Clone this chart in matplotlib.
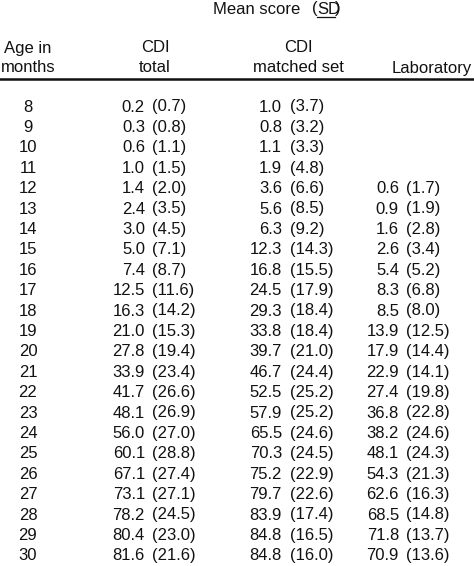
import matplotlib
matplotlib.use("Agg")
import matplotlib.pyplot as plt

ages = list(range(8, 31))
cdi_total_mean = [0.2, 0.3, 0.6, 1.0, 1.4, 2.4, 3.0, 5.0, 7.4, 12.5, 16.3, 21.0, 27.8, 33.9, 41.7, 48.1, 56.0, 60.1, 67.1, 73.1, 78.2, 80.4, 81.6]
cdi_total_sd = [0.7, 0.8, 1.1, 1.5, 2.0, 3.5, 4.5, 7.1, 8.7, 11.6, 14.2, 15.3, 19.4, 23.4, 26.6, 26.9, 27.0, 28.8, 27.4, 27.1, 24.5, 23.0, 21.6]
matched_mean = [1.0, 0.8, 1.1, 1.9, 3.6, 5.6, 6.3, 12.3, 16.8, 24.5, 29.3, 33.8, 39.7, 46.7, 52.5, 57.9, 65.5, 70.3, 75.2, 79.7, 83.9, 84.8, 84.8]
matched_sd = [3.7, 3.2, 3.3, 4.8, 6.6, 8.5, 9.2, 14.3, 15.5, 17.9, 18.4, 18.4, 21.0, 24.4, 25.2, 25.2, 24.6, 24.5, 22.9, 22.6, 17.4, 16.5, 16.0]
lab_mean = [None, None, None, None, 0.6, 0.9, 1.6, 2.6, 5.4, 8.3, 8.5, 13.9, 17.9, 22.9, 27.4, 36.8, 38.2, 48.1, 54.3, 62.6, 68.5, 71.8, 70.9]
lab_sd = [None, None, None, None, 1.7, 1.9, 2.8, 3.4, 5.2, 6.8, 8.0, 12.5, 14.4, 14.1, 19.8, 22.8, 24.6, 24.3, 21.3, 16.3, 14.8, 13.7, 13.6]

plt.rcParams['font.family'] = ['Liberation Sans', 'DejaVu Sans']
fig = plt.figure(figsize=(4.74, 5.66), dpi=100)
ax = fig.add_axes([0, 0, 1, 1])
ax.set_xlim(0, 474)
ax.set_ylim(566, 0)
ax.axis('off')
fs = 12
kw = dict(fontsize=fs, color='#111111', va='center')

ax.text(300, 9, "Mean score", ha='right', **kw)
ax.text(312, 9, "(", ha='left', **kw)
ax.text(317, 9, "SD", ha='left', **kw)
ax.plot([317, 335], [17, 17], color='#111111', lw=0.9)
ax.text(335, 9, ")", ha='left', **kw)

ax.text(28, 48, "Age in", ha='center', **kw)
ax.text(28, 68, "months", ha='center', **kw)
ax.text(155, 48, "CDI", ha='center', **kw)
ax.text(155, 68, "total", ha='center', **kw)
ax.text(298, 48, "CDI", ha='center', **kw)
ax.text(298, 68, "matched set", ha='center', **kw)
ax.text(432, 68, "Laboratory", ha='center', **kw)
ax.plot([0, 474], [79, 79], color='#111111', lw=1.8)

y0, dy = 107, 20.4
for i, a in enumerate(ages):
    y = y0 + i * dy
    ax.text(28, y, str(a), ha='center', **kw)
    ax.text(145, y, f"{cdi_total_mean[i]:.1f}", ha='right', **kw)
    ax.text(152, y, f"({cdi_total_sd[i]:.1f})", ha='left', **kw)
    ax.text(282, y, f"{matched_mean[i]:.1f}", ha='right', **kw)
    ax.text(290, y, f"({matched_sd[i]:.1f})", ha='left', **kw)
    if lab_mean[i] is not None:
        ax.text(399, y, f"{lab_mean[i]:.1f}", ha='right', **kw)
        ax.text(406, y, f"({lab_sd[i]:.1f})", ha='left', **kw)

fig.savefig("out.png", dpi=100, facecolor='white')
